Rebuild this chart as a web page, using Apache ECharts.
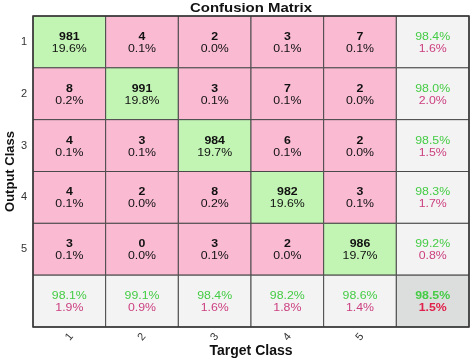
<!DOCTYPE html>
<html><head><meta charset="utf-8">
<script src="https://cdn.jsdelivr.net/npm/echarts@6/dist/echarts.min.js"></script>
<style>html,body{margin:0;padding:0;background:#fff}#c{width:474px;height:360px}</style>
</head><body><div id="c"></div>
<script>
var titleText = 'Confusion Matrix';
var classes = ['1','2','3','4','5'];
var counts = [
  [981, 4, 2, 3, 7],
  [8, 991, 3, 7, 2],
  [4, 3, 984, 6, 2],
  [4, 2, 8, 982, 3],
  [3, 0, 3, 2, 986]
];
var percents = [
  ['19.6%','0.1%','0.0%','0.1%','0.1%'],
  ['0.2%','19.8%','0.1%','0.1%','0.0%'],
  ['0.1%','0.1%','19.7%','0.1%','0.0%'],
  ['0.1%','0.0%','0.2%','19.6%','0.1%'],
  ['0.1%','0.0%','0.1%','0.0%','19.7%']
];
var rowCorrect = ['98.4%','98.0%','98.5%','98.3%','99.2%'];
var rowWrong   = ['1.6%','2.0%','1.5%','1.7%','0.8%'];
var colCorrect = ['98.1%','99.1%','98.4%','98.2%','98.6%'];
var colWrong   = ['1.9%','0.9%','1.6%','1.8%','1.4%'];
var totalCorrect = '98.5%';
var totalWrong = '1.5%';

var xCats = classes.concat(['']);
var yCats = classes.concat(['']);

var data = [];
for (var r = 0; r < 6; r++) {
  for (var c = 0; c < 6; c++) {
    var kind, t1, t2;
    if (r < 5 && c < 5) { kind = (r === c) ? 'diag' : 'off'; t1 = String(counts[r][c]); t2 = percents[r][c]; }
    else if (r < 5 && c === 5) { kind = 'sum'; t1 = rowCorrect[r]; t2 = rowWrong[r]; }
    else if (r === 5 && c < 5) { kind = 'sum'; t1 = colCorrect[c]; t2 = colWrong[c]; }
    else { kind = 'total'; t1 = totalCorrect; t2 = totalWrong; }
    data.push({value: [c, r], kind: kind, t1: t1, t2: t2});
  }
}
var fills = {diag: '#c2f5b4', off: '#f9bad2', sum: '#f3f3f3', total: '#dcdedd'};
var SX = 1.12;

var chart = echarts.init(document.getElementById('c'));
chart.setOption({
  animation: false,
  grid: {left: 33, right: 5, top: 16, bottom: 33, containLabel: false, outerBoundsMode: 'none'},
  xAxis: {type: 'category', data: xCats, name: 'Target Class', nameLocation: 'middle', nameGap: 17,
    nameMoveOverlap: false,
    nameTextStyle: {fontFamily: 'Liberation Sans', fontSize: 14, fontWeight: 'bold', color: '#111'},
    axisLine: {show: false}, axisTick: {show: false}, splitLine: {show: false},
    axisLabel: {rotate: 50, margin: 10, align: 'center', verticalAlign: 'middle',
      fontFamily: 'Liberation Sans', fontSize: 11, color: '#333'}},
  yAxis: {type: 'category', data: yCats, inverse: true, name: 'Output Class', nameLocation: 'middle', nameGap: 16,
    nameMoveOverlap: false,
    nameTextStyle: {fontFamily: 'Liberation Sans', fontSize: 13, fontWeight: 'bold', color: '#111'},
    axisLine: {show: false}, axisTick: {show: false}, splitLine: {show: false},
    axisLabel: {margin: 6, fontFamily: 'Liberation Sans', fontSize: 11, color: '#333'}},
  series: [{
    type: 'custom',
    data: data,
    renderItem: function (params, api) {
      var d = data[params.dataIndex];
      var p = api.coord([api.value(0), api.value(1)]);
      var s = api.size([1, 1]);
      var x = p[0] - s[0] / 2, y = p[1] - s[1] / 2;
      var isSum = d.kind === 'sum' || d.kind === 'total';
      var bold = d.kind === 'total';
      return {type: 'group', children: [
        {type: 'rect', shape: {x: x, y: y, width: s[0], height: s[1]},
          style: {fill: fills[d.kind], stroke: '#4a4a4a', lineWidth: 1}},
        {type: 'text', x: p[0], y: p[1] - 5, scaleX: SX,
          style: {text: d.t1, x: 0, y: 0, align: 'center', verticalAlign: 'middle',
          fontFamily: 'Liberation Sans', fontSize: 11, fontWeight: (isSum && !bold) ? 'normal' : 'bold',
          fill: isSum ? '#44cc44' : '#111'}},
        {type: 'text', x: p[0], y: p[1] + 7, scaleX: SX,
          style: {text: d.t2, x: 0, y: 0, align: 'center', verticalAlign: 'middle',
          fontFamily: 'Liberation Sans', fontSize: 11, fontWeight: bold ? 'bold' : 'normal',
          fill: isSum ? (bold ? '#e0204a' : '#cc4080') : '#111'}}
      ]};
    }
  }],
  graphic: [
    {type: 'rect', shape: {x: 33, y: 16, width: 436, height: 311},
      style: {fill: 'none', stroke: '#333', lineWidth: 1.5}, z: 100},
    {type: 'text', x: 251, y: 8, scaleX: 1.15,
      style: {text: titleText, x: 0, y: 0, align: 'center', verticalAlign: 'middle',
        fontFamily: 'Liberation Sans', fontSize: 13, fontWeight: 'bold', fill: '#111'}}
  ]
});
</script></body></html>
